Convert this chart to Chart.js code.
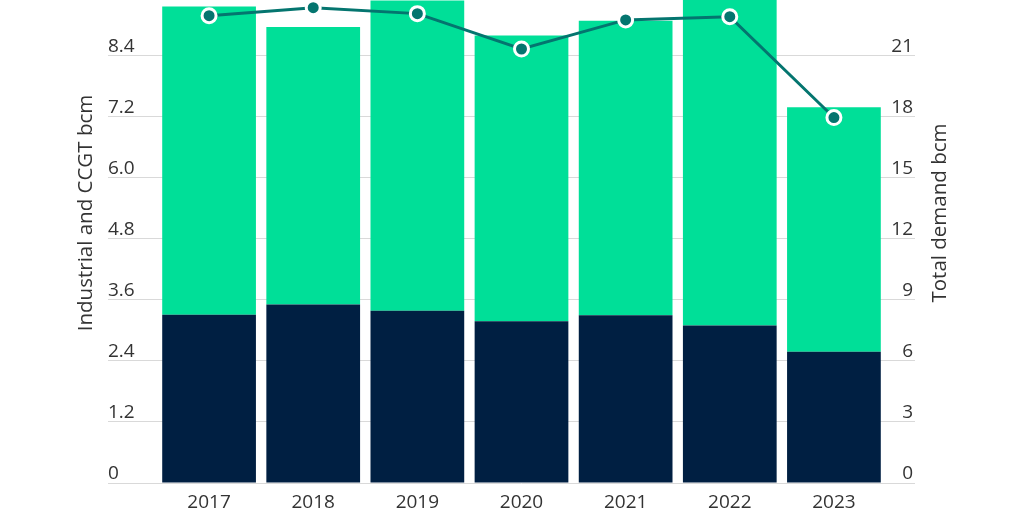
<!DOCTYPE html>
<html>
<head>
<meta charset="utf-8">
<script src="https://cdn.jsdelivr.net/npm/chart.js@4"></script>
<style>
  html, body { margin: 0; padding: 0; background: #ffffff; }
</style>
</head>
<body>
<canvas id="demandChart" width="1024" height="512"></canvas>
<script>
const years = ["2017", "2018", "2019", "2020", "2021", "2022", "2023"];
const industrialData = [3.31, 3.51, 3.39, 3.18, 3.3, 3.1, 2.58];
const ccgtData = [6.06, 5.46, 6.1, 5.62, 5.79, 6.6, 4.81];
const totalDemandData = [22.98, 23.37, 23.08, 21.34, 22.77, 22.93, 17.97];

const leftTickValues = [0, 1.2, 2.4, 3.6, 4.8, 6.0, 7.2, 8.4];
const rightTickValues = [0, 3, 6, 9, 12, 15, 18, 21];
const leftMax = 9.5;
const rightMax = 23.75;

const leftTitle = "Industrial and CCGT bcm";
const rightTitle = "Total demand bcm";

const colors = {
  navy: "#001f42",
  green: "#00df98",
  line: "#04756f",
  text: "#333333",
  grid: "#d9d9d9",
};
const fontFamily = "'Open Sans', sans-serif";

// axis titles both read bottom-to-top, so draw them by hand
const axisTitles = {
  id: "axisTitles",
  afterDraw(chart) {
    const { ctx } = chart;
    const drawRotated = (text, x, y) => {
      ctx.save();
      ctx.translate(x, y);
      ctx.rotate(-Math.PI / 2);
      ctx.fillText(text, 0, 0);
      ctx.restore();
    };
    ctx.save();
    ctx.font = `20.5px ${fontFamily}`;
    ctx.fillStyle = colors.text;
    ctx.textAlign = "center";
    ctx.textBaseline = "middle";
    drawRotated(leftTitle, 86, 213);
    drawRotated(rightTitle, 940, 213);
    ctx.restore();
  },
};

const tickFont = { family: fontFamily, size: 19 };

new Chart(document.getElementById("demandChart").getContext("2d"), {
  type: "bar",
  data: {
    labels: years,
    datasets: [
      {
        type: "line",
        label: "Total demand",
        data: totalDemandData,
        yAxisID: "y1",
        borderColor: colors.line,
        borderWidth: 3,
        pointRadius: 7,
        pointBorderWidth: 3,
        pointBackgroundColor: colors.line,
        pointBorderColor: "#ffffff",
        tension: 0,
        clip: false,
        order: 0,
      },
      {
        label: "Industrial",
        data: industrialData,
        backgroundColor: colors.navy,
        yAxisID: "y",
        order: 1,
      },
      {
        label: "CCGT",
        data: ccgtData,
        backgroundColor: colors.green,
        yAxisID: "y",
        order: 1,
      },
    ],
  },
  options: {
    responsive: false,
    animation: false,
    devicePixelRatio: 1,
    layout: { padding: 0, autoPadding: false },
    barPercentage: 0.9,
    categoryPercentage: 1.0,
    plugins: {
      legend: { display: false },
      tooltip: { enabled: false },
    },
    scales: {
      x: {
        stacked: true,
        grid: { display: false, drawTicks: false },
        border: { display: false },
        ticks: { color: colors.text, font: tickFont, padding: 8 },
        afterFit: (scale) => {
          scale.height = 29;
          scale.paddingLeft = 0;
          scale.paddingRight = 0;
        },
      },
      y: {
        position: "left",
        stacked: true,
        min: 0,
        max: leftMax,
        afterBuildTicks: (scale) => {
          scale.ticks = leftTickValues.map((value) => ({ value }));
        },
        grid: { color: colors.grid, lineWidth: 1, drawTicks: true, tickLength: 49 },
        border: { display: false },
        ticks: {
          mirror: true,
          padding: -49,
          labelOffset: -9,
          color: colors.text,
          font: tickFont,
          callback: (value) => (value === 0 ? "0" : Number(value).toFixed(1)),
        },
        afterFit: (scale) => {
          scale.width = 157;
          scale.paddingTop = 0;
          scale.paddingBottom = 0;
        },
      },
      y1: {
        position: "right",
        min: 0,
        max: rightMax,
        afterBuildTicks: (scale) => {
          scale.ticks = rightTickValues.map((value) => ({ value }));
        },
        grid: {
          color: colors.grid,
          lineWidth: 1,
          drawOnChartArea: false,
          drawTicks: true,
          tickLength: 29,
        },
        border: { display: false },
        ticks: {
          mirror: true,
          padding: 27,
          labelOffset: -9,
          color: colors.text,
          font: tickFont,
          callback: (value) => String(value),
        },
        afterFit: (scale) => {
          scale.width = 138;
          scale.paddingTop = 0;
          scale.paddingBottom = 0;
        },
      },
    },
  },
  plugins: [axisTitles],
});
</script>
</body>
</html>
